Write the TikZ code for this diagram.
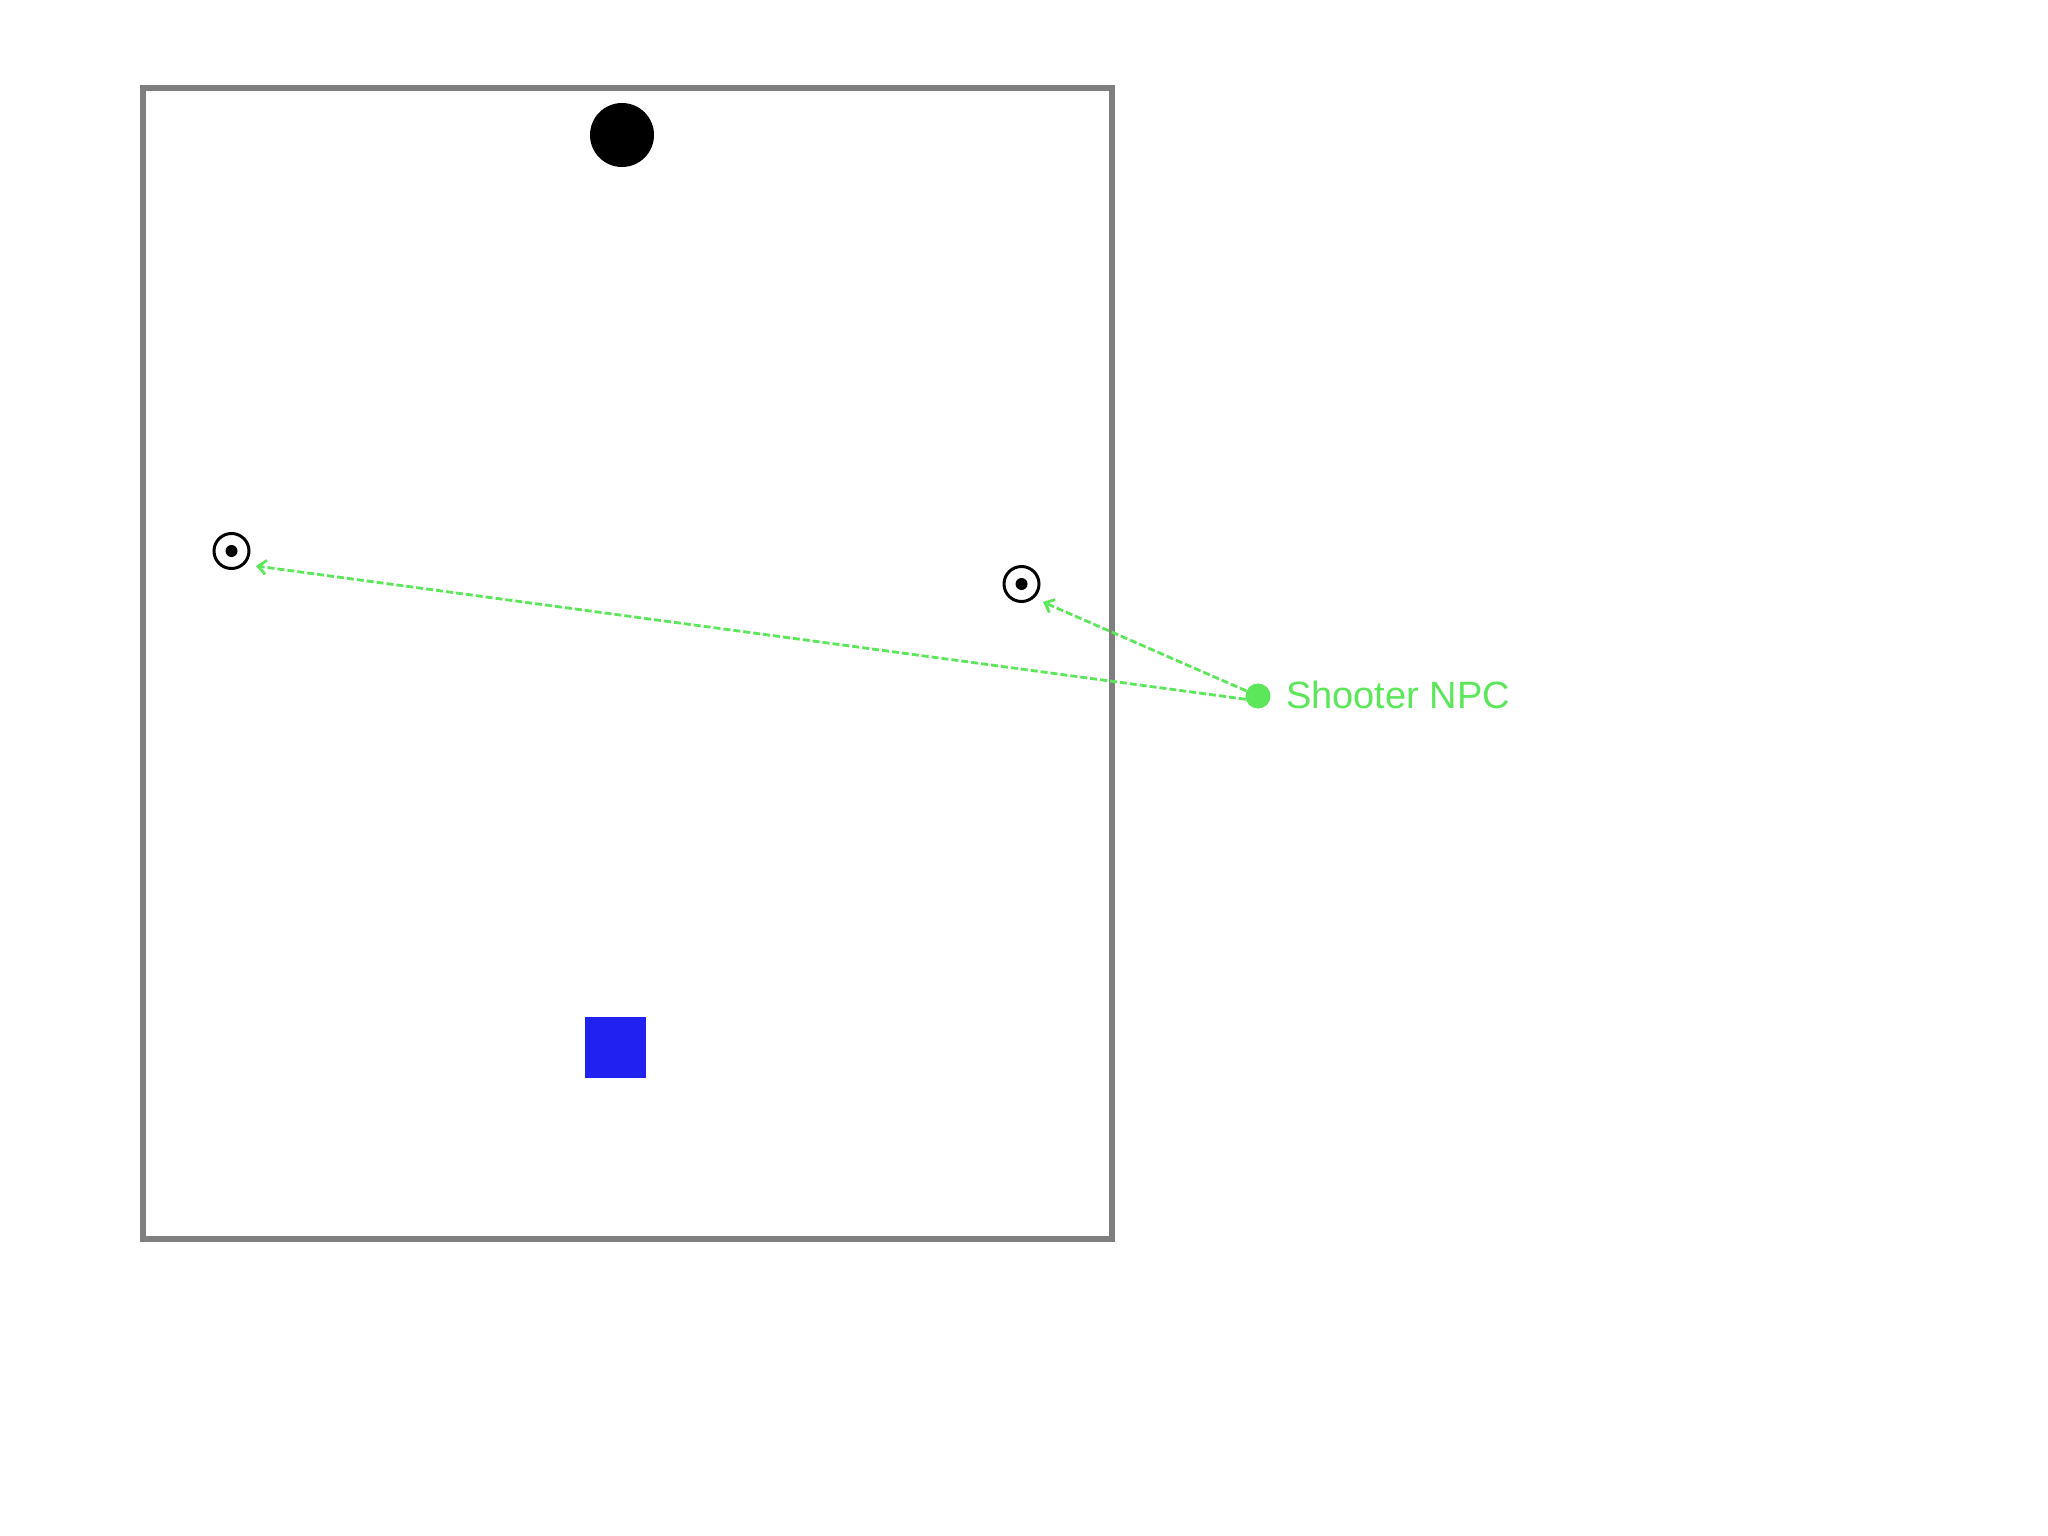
\documentclass[tikz,border=0pt]{standalone}
\usepackage{fontspec}
\setmainfont{Liberation Sans}
\usetikzlibrary{arrows,arrows.meta}
\definecolor{wall}{HTML}{7F7F7F}
\definecolor{shooter}{HTML}{5CE65A}
\definecolor{player}{HTML}{2121F0}
\definecolor{background}{HTML}{FFFFFF}
\tikzset{%
    >={Straight Barb[length=8pt,width=14pt]},
    target/.style={circle, draw=black, line width=3pt, minimum size=35pt, inner sep=0pt},
    shot/.style={color=shooter, line width=2.8pt, dash pattern=on 7pt off 3pt, ->}
}

\begin{document}
\begin{tikzpicture}[x=1pt,y=-1pt]
        \useasboundingbox (0,0) rectangle (2048,1536);
        \fill[background] (0,0) rectangle (2048,1536);
        \draw[color=wall, line width=6pt] (142.5,88) rectangle (1112,1239);

        \node[circle, fill=black, minimum size=64pt, inner sep=0pt] (ball) at (622,135) {};
        \node[fill=player, minimum size=61pt, inner sep=0pt] (player) at (615.5,1047) {};

        \node[target] (targetL) at (231.5,551) {};
        \fill (targetL.center) circle (6pt);
        \node[target] (targetR) at (1021.5,584) {};
        \fill (targetR.center) circle (6pt);

        \node[circle, fill=shooter, minimum size=25pt, inner sep=0pt] (npc) at (1258,696) {};
        \node[anchor=base west, inner sep=0pt, text=shooter, font=\fontsize{38}{40}\selectfont] (npclabel) at (1286,708) {Shooter NPC};

        \coordinate (hitL) at (256,566);
        \coordinate (hitR) at (1043,602);
        \draw[shot] (npc.195) -- (hitL);
        \draw[shot] (npc) -- (hitR);
\end{tikzpicture}
\end{document}
